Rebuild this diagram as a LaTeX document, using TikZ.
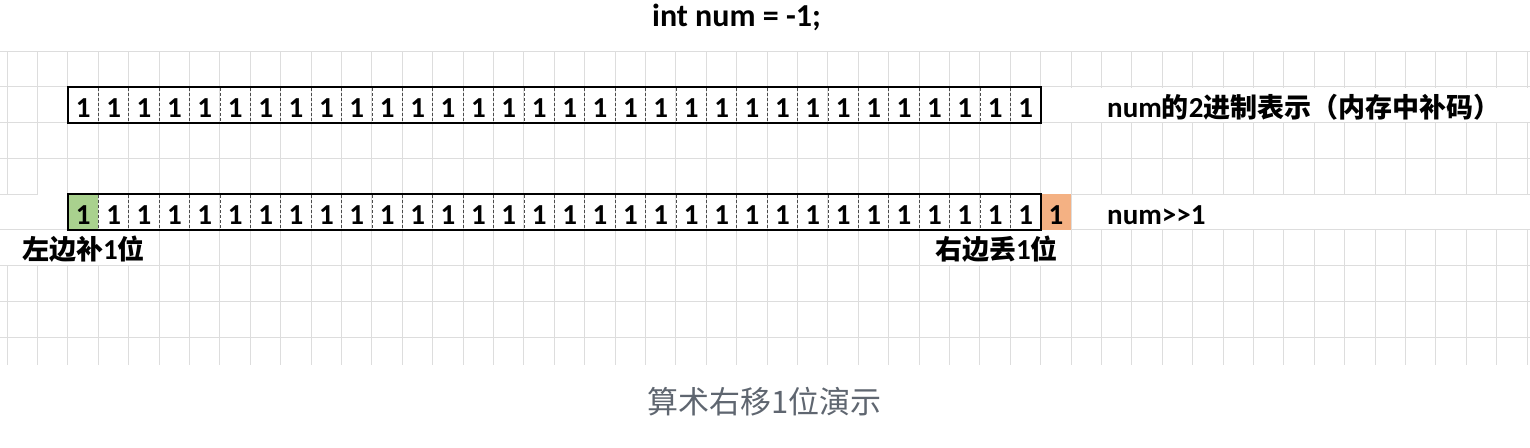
\documentclass[tikz,border=0pt]{standalone}
\usepackage{fontspec}
\setmainfont{Carlito}[Ligatures=TeXOff]
\newfontfamily\cjk{Noto Sans CJK SC}
\newcommand\zhs[1]{{\cjk\fontsize{27}{27}\selectfont #1}}
\definecolor{gridc}{HTML}{DDDDDD}
\definecolor{greenc}{HTML}{A9D18E}
\definecolor{orangec}{HTML}{F4B183}
\definecolor{capc}{HTML}{5F6670}
\begin{document}
\begin{tikzpicture}[x=1pt,y=-1pt,
  gridline/.style={draw=gridc,line width=1pt},
  mask/.style={fill=white},
  bitbox/.style={draw=black,line width=2pt},
  sep/.style={draw=black!70,line width=0.8pt,dash pattern=on 3pt off 2pt},
  bit/.style={anchor=base,inner sep=0pt,font=\fontsize{29}{29}\selectfont\bfseries},
  lbl/.style={inner sep=0pt,font=\fontsize{29}{29}\selectfont\bfseries},
]
\useasboundingbox[fill=white] (0,0) rectangle (1530,447);
% spreadsheet grid
\foreach \k in {0,...,50} \draw[gridline] ({7+30.4*\k},51) -- ({7+30.4*\k},365);
\foreach \y in {51,86.75,122.5,158.25,194,229.75,265.5,301.25,337} \draw[gridline] (0,\y) -- (1530,\y);
% cells where text overflows hide the gridlines
\fill[mask] (1042,87.5) rectangle (1530,122);
\fill[mask] (0,194.5) rectangle (67,229.25);
\fill[mask] (38,193) rectangle (67,195);
\fill[mask] (1072,194.5) rectangle (1530,229.25);
\fill[mask] (2,230.25) rectangle (157,265);
\fill[mask] (923,230.25) rectangle (1069,265);
% row 1 : num in memory
\draw[bitbox] (68,86.75) rectangle (1040.8,122.5);
\foreach \k in {1,...,31} \draw[sep] ({68+30.4*\k},87.75) -- ({68+30.4*\k},121.5);
\foreach \i in {0,...,31} \node[bit] (a\i) at ({83.2+30.4*\i},117) {1};
% row 2 : num>>1
\fill[greenc] (68,194) rectangle (98.4,229.75);
\fill[orangec] (1040.8,194) rectangle (1071.2,229.75);
\draw[bitbox] (68,194) rectangle (1040.8,229.75);
\foreach \k in {1,...,31} \draw[sep] ({68+30.4*\k},195) -- ({68+30.4*\k},228.75);
\foreach \i in {0,...,31} \node[bit] (b\i) at ({83.2+30.4*\i},224) {1};
\node[bit] (drop) at (1056,224) {1};
% labels
\node[lbl,anchor=base,font=\fontsize{32}{32}\selectfont\bfseries] (title) at (736.5,27) {int num = -1;};
\node[lbl,anchor=base west] (rep) at (1107,117) {num\zhs{的}2\zhs{进制表示（内存中补码）}};
\node[lbl,anchor=base west] (shift) at (1107,224) {num>>1};
\node[lbl,anchor=base] (left) at (83.5,259) {\zhs{左边补}1\zhs{位}};
\node[lbl,anchor=base] (right) at (996.5,259) {\zhs{右边丢}1\zhs{位}};
\node[anchor=base,inner sep=0pt,text=capc,font=\cjk\fontsize{31}{31}\selectfont] (cap) at (764.5,413) {算术右移1位演示};
\end{tikzpicture}
\end{document}
